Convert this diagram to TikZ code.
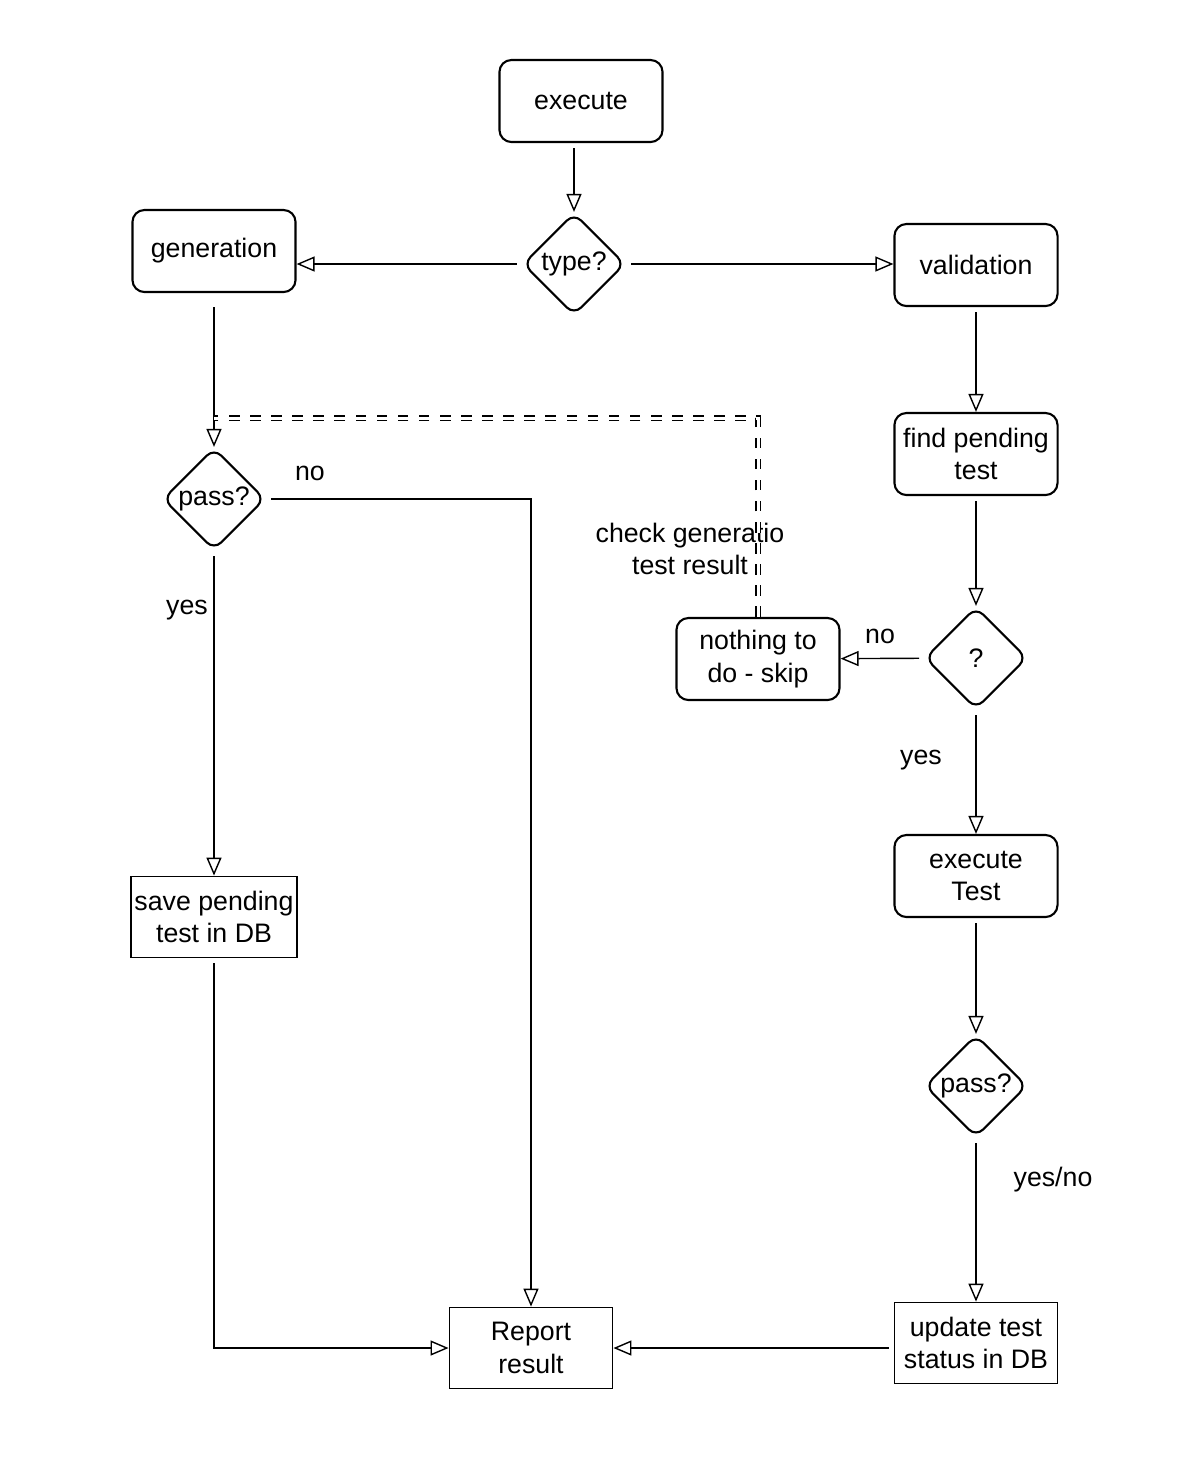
\documentclass[tikz,border=0pt]{standalone}
\usepackage{fontspec}
\setmainfont{Liberation Sans}
\usetikzlibrary{shapes.geometric}
\usetikzlibrary{arrows.meta}

\begin{document}
\begin{tikzpicture}[x=0.01cm,y=-0.01cm,
 every node/.style={font=\fontsize{7.6}{9.2}\selectfont},
 rbox/.style={draw,rounded corners=1.2mm,line width=0.6pt,minimum width=1.63cm,minimum height=0.82cm,align=center,inner sep=1pt},
 sbox/.style={draw,line width=0.5pt,minimum width=1.63cm,minimum height=0.81cm,align=center,inner sep=1pt},
 decide/.style={draw,diamond,rounded corners=1mm,line width=0.6pt,minimum width=1.02cm,minimum height=1.02cm,inner sep=0pt,aspect=1},
 flow/.style={draw,line width=0.4pt,shorten <=0.5mm,-{Triangle[open,length=1.8mm,width=1.5mm]}},
 lbl/.style={inner sep=0pt}]
\useasboundingbox (0,0) rectangle (1200,1469);

% boxes
\node[rbox] (exec) at (581,101) {execute};
\node[decide] (type) at (574,264) {type?};
\node[rbox] (gen) at (214,251) {generation};
\node[rbox] (valid) at (976,265) {validation};
\node[rbox] (find) at (976,454) {find pending\\test};
\node[decide] (check) at (976,658) {?};
\node[rbox] (skip) at (758,659) {nothing to\\do - skip};
\node[rbox] (run) at (976,876) {execute\\Test};
\node[decide] (rpass) at (976,1086) {pass?};
\node[sbox] (update) at (976,1343) {update test\\status in DB};
\node[sbox] (report) at (531,1348) {Report\\result};
\node[sbox] (save) at (214,917) {save pending\\test in DB};
\node[decide] (lpass) at (214,499) {pass?};

% labels
\node[lbl] (lno) at (310,473) {no};
\node[lbl] (lyes) at (187,610) {yes};
\node[lbl] (sno) at (880,636) {no};
\node[lbl] (syes) at (921,760) {yes};
\node[lbl] (ryn) at (1053,1180) {yes/no};
\node[lbl,align=center] (chkgen) at (690,549) {check generatio\\test result};

% connectors
\draw[flow] (exec.south -| type.north) -- (type.north);
\draw[flow] (type.west) -- (type.west -| gen.east);
\draw[flow] (type.east) -- (type.east -| valid.west);
\draw[flow,shorten <=1.4mm] (gen.south) -- (lpass.north);
\draw[flow] (valid) -- (find);
\draw[flow] (find) -- (check);
\draw[flow] (check) -- (skip);
\draw[flow] (check) -- (run);
\draw[flow] (run) -- (rpass);
\draw[flow] (rpass) -- (update);
\draw[flow] (update.west |- report.east) -- (report.east);
\draw[flow] (save.south) |- (report.west);
\draw[flow] (lpass) -- (save);
\draw[flow] (lpass.east) -| (report.north);

% dashed back link
\coordinate (chk) at (214,418);
\draw[dashed,line width=0.3pt,double distance=0.3mm] (skip.north) |- (chk);
\end{tikzpicture}
\end{document}
